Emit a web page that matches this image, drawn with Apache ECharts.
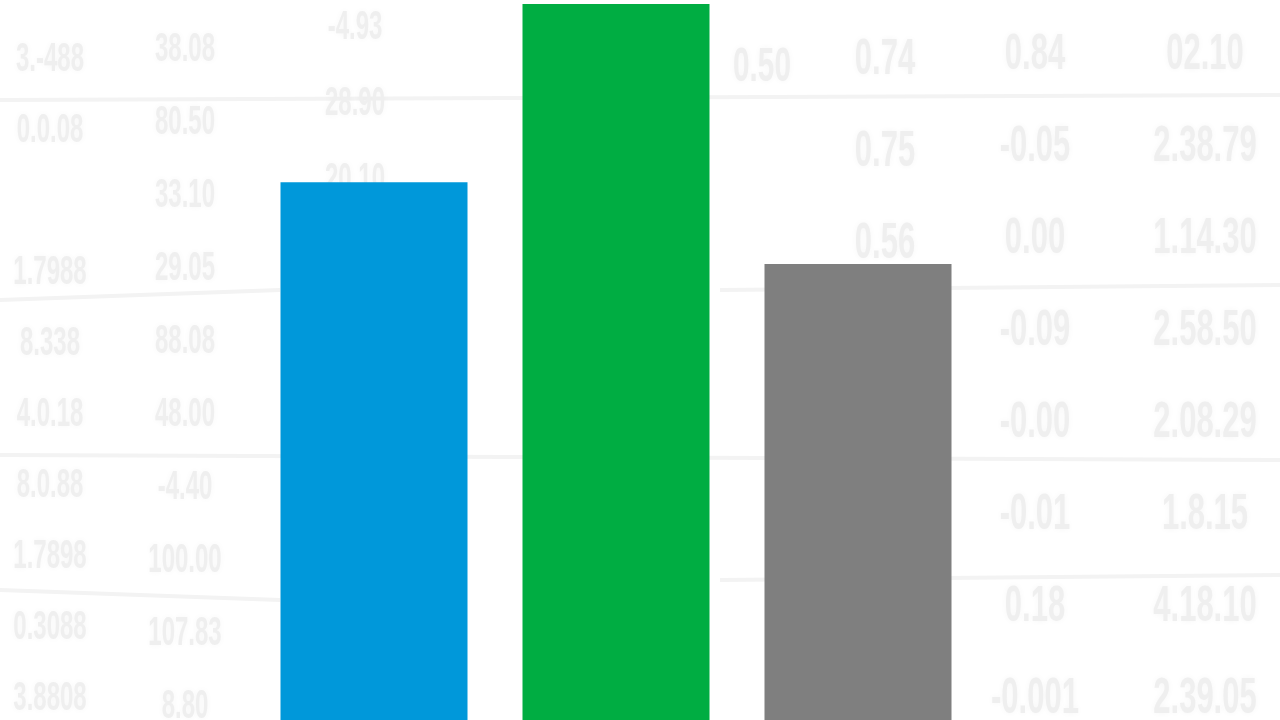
<!DOCTYPE html>
<html>
<head>
<meta charset="utf-8">
<script src="https://cdn.jsdelivr.net/npm/echarts@6/dist/echarts.min.js"></script>
<style>
html,body{margin:0;padding:0;background:#fff;}
#chart{width:1280px;height:720px;}
</style>
</head>
<body>
<div id="chart"></div>
<script>
// Data
const categories = ['A', 'B', 'C'];
const values = [75.1, 100, 63.7];
const barColors = ['#0098DA', '#00AD42', '#7F7F7F'];

// Faded background table texts (decoration)
const bgCol1 = ['3.-488', '0.0.08', '', '1.7988', '8.338', '4.0.18', '8.0.88', '1.7898', '0.3088', '3.8808'];
const bgCol2 = ['38.08', '80.50', '33.10', '29.05', '88.08', '48.00', '-4.40', '100.00', '107.83', '8.80'];
const bgCol3 = ['-4.93', '28.90', '20.10'];
const bgColA = ['0.74', '0.75', '0.56'];
const bgColB = ['0.84', '-0.05', '0.00', '-0.09', '-0.00', '-0.01', '0.18', '-0.001'];
const bgColC = ['02.10', '2.38.79', '1.14.30', '2.58.50', '2.08.29', '1.8.15', '4.18.10', '2.39.05'];

const chart = echarts.init(document.getElementById('chart'));

const graphics = [];
function addText(t, x, y, size, sx) {
  graphics.push({
    type: 'text', x: x, y: y, z: -10, silent: true, scaleX: sx,
    style: {
      text: t, fill: '#efefef', align: 'center', verticalAlign: 'middle',
      font: 'bold ' + size + 'px "Liberation Sans", sans-serif',
      textShadowColor: 'rgba(0,0,0,0.04)', textShadowBlur: 6
    }
  });
}
function addCol(list, x, y0, dy, size, sx) {
  list.forEach((t, i) => { if (t) addText(t, x, y0 + i * dy, size, sx); });
}
addCol(bgCol1, 50, 60, 71, 40, 0.6);
addCol(bgCol2, 185, 50, 73, 40, 0.6);
addCol(bgCol3, 355, 28, 76, 40, 0.6);
addCol(bgColA, 885, 60, 92, 50, 0.62);
addCol(bgColB, 1035, 55, 92, 50, 0.62);
addCol(bgColC, 1205, 55, 92, 50, 0.62);
addText('0.50', 762, 68, 48, 0.62);
// faint ruling lines
[[0,100,1280,95],[0,300,280,290],[720,290,1280,285],[0,455,1280,460],[0,590,280,600],[720,580,1280,575]].forEach(l=>{
  graphics.push({type:'line', z:-11, silent:true, shape:{x1:l[0],y1:l[1],x2:l[2],y2:l[3]},
    style:{stroke:'#f3f3f3', lineWidth:4}});
});

chart.setOption({
  backgroundColor: '#ffffff',
  animation: false,
  graphic: graphics,
  grid: { left: 253, right: 301, top: 4, bottom: 0, containLabel: false },
  xAxis: {
    type: 'category', data: categories,
    axisLine: {show:false}, axisTick:{show:false}, axisLabel:{show:false}, splitLine:{show:false}
  },
  yAxis: {
    type: 'value', min: 0, max: 100,
    axisLine:{show:false}, axisTick:{show:false}, axisLabel:{show:false}, splitLine:{show:false}
  },
  series: [{
    type: 'bar', z: 5,
    barWidth: 187,
    data: values.map((v, i) => ({ value: v, itemStyle: { color: barColors[i] } }))
  }]
});
</script>
</body>
</html>
